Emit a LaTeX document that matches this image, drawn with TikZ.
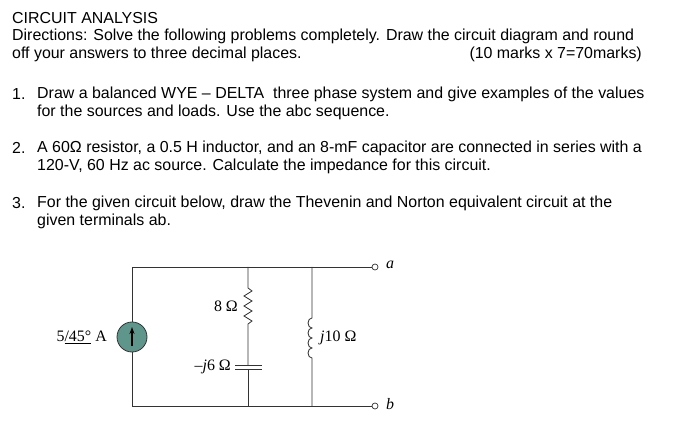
\documentclass[tikz,border=0pt]{standalone}
\usepackage{fontspec}
\setmainfont{Liberation Sans}
\newfontfamily\serifx{Liberation Serif}
\usetikzlibrary{arrows.meta}
\begin{document}
\begin{tikzpicture}[x=1bp,y=-1bp,
  txt/.style={anchor=west,inner sep=0,font=\fontsize{16}{17}\selectfont},
  lbl/.style={inner sep=0,font=\serifx\fontsize{16}{17}\selectfont},
  wire/.style={line width=0.8bp,black!80}]
\useasboundingbox (0,0) rectangle (674,440);
\node[txt] (t1) at (12,18) {CIRCUIT ANALYSIS};
\node[txt] (t2) at (12,36) {Directions: Solve the following problems completely. Draw the circuit diagram and round};
\node[txt] (t3) at (12,54) {off your answers to three decimal places.};
\node[txt,anchor=east] (t4) at (642,54) {(10 marks x 7=70marks)};
\node[txt] (n1) at (12,94) {1.};
\node[txt] (q1a) at (37,94) {Draw a balanced WYE – DELTA\ \ three phase system and give examples of the values};
\node[txt] (q1b) at (37,112) {for the sources and loads. Use the abc sequence.};
\node[txt] (n2) at (12,148) {2.};
\node[txt] (q2a) at (37,148) {A 60Ω resistor, a 0.5 H inductor, and an 8-mF capacitor are connected in series with a};
\node[txt] (q2b) at (37,166) {120-V, 60 Hz ac source. Calculate the impedance for this circuit.};
\node[txt] (n3) at (12,203) {3.};
\node[txt] (q3a) at (37,203) {For the given circuit below, draw the Thevenin and Norton equivalent circuit at the};
\node[txt] (q3b) at (37,221) {given terminals ab.};
% circuit
\coordinate (tl) at (132,267); \coordinate (bl) at (132,406);
\coordinate (tm) at (248,267); \coordinate (bm) at (248,406);
\coordinate (ti) at (312,267); \coordinate (bi) at (312,406);
\node[circle,draw=black!80,line width=0.8bp,minimum size=30bp,inner sep=0,fill={rgb,255:red,95;green,150;blue,140}] (src) at (132,337) {};
\draw[-{Stealth[length=7bp,width=5bp]},line width=1.2bp] (132,346) -- (132,327);
\node[circle,draw=black!80,line width=0.7bp,minimum size=6bp,inner sep=0] (a) at (375,267) {};
\node[circle,draw=black!80,line width=0.7bp,minimum size=6bp,inner sep=0] (b) at (375,406) {};
\node[lbl,anchor=west] (la) at (386,265) {\itshape a};
\node[lbl,anchor=west] (lb) at (386,404) {\itshape b};
\draw[wire] (src.north) -- (tl) -- (a.west);
\draw[wire] (src.south) -- (bl) -- (b.west);
% resistor
\draw[wire] (tm) -- (248,288) -- (252,291) -- (244,296) -- (252,301) -- (244,306) -- (252,311) -- (244,316) -- (252,321) -- (248,324) -- (248,365);
\draw[wire] (235,365) -- (262,365);
\draw[wire] (235,369) -- (262,369);
\draw[wire] (248,369) -- (bm);
% inductor
\draw[wire] (ti) -- (312,318)
  \foreach \k in {0,1,2,3} { arc[start angle=90,end angle=270,x radius=4bp,y radius=5bp] }
  -- (bi);
\node[lbl,anchor=east] (r8) at (238,306) {8 Ω};
\node[lbl,anchor=east] (c6) at (231,367) {–\textit{j}6 Ω};
\node[lbl,anchor=west] (l10) at (320,338) {\textit{j}10 Ω};
\node[lbl,anchor=east] (ls) at (107,337) {5\underline{/45°} A};
\end{tikzpicture}
\end{document}
